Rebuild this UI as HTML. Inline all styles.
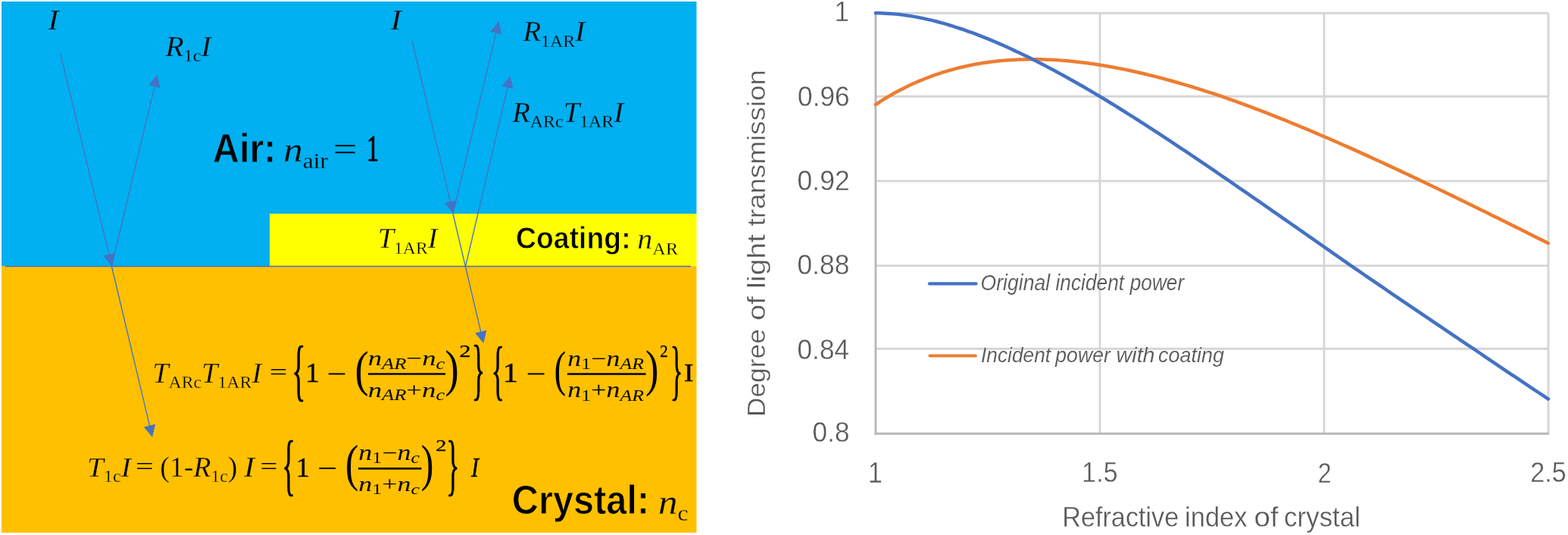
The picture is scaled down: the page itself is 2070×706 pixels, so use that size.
<!DOCTYPE html>
<html><head><meta charset="utf-8"><title>Anti-reflection coating transmission</title>
<style>html,body{margin:0;padding:0;background:#fff;width:2070px;height:706px;overflow:hidden}svg{display:block}</style>
</head><body>
<svg width="2070" height="706" viewBox="0 0 2070 706">
<path d="M2,2H919.5V282H356V351.2H2Z" fill="#00B0F0"/>
<rect x="2" y="351" width="917.5" height="352" fill="#FFC000"/>
<rect x="356" y="282" width="563.5" height="69.2" fill="#FFFF00"/>
<line x1="7" y1="351.6" x2="912" y2="351.6" stroke="#4472C4" stroke-width="1.5"/>
<line x1="79.70" y1="70.50" x2="144.32" y2="337.67" stroke="#4472C4" stroke-width="1.35"/><polygon points="147.56,351.08 136.32,337.55 151.38,333.90" fill="#4472C4"/>
<line x1="147.40" y1="351.50" x2="197.96" y2="563.56" stroke="#4472C4" stroke-width="1.35"/><polygon points="201.16,576.98 189.96,563.41 205.04,559.81" fill="#4472C4"/>
<line x1="147.40" y1="351.50" x2="204.37" y2="112.14" stroke="#4472C4" stroke-width="1.35"/><polygon points="207.56,98.72 211.44,115.88 196.36,112.30" fill="#4472C4"/>
<line x1="544.10" y1="54.00" x2="594.97" y2="268.05" stroke="#4472C4" stroke-width="1.35"/><polygon points="598.16,281.48 586.97,267.90 602.05,264.32" fill="#4472C4"/>
<line x1="598.00" y1="282.00" x2="614.50" y2="352.00" stroke="#4472C4" stroke-width="1.35"/>
<line x1="614.50" y1="352.00" x2="635.19" y2="439.55" stroke="#4472C4" stroke-width="1.35"/><polygon points="638.36,452.98 627.19,439.39 642.27,435.82" fill="#4472C4"/>
<line x1="598.00" y1="282.00" x2="655.26" y2="41.64" stroke="#4472C4" stroke-width="1.35"/><polygon points="658.46,28.22 662.34,45.39 647.26,41.79" fill="#4472C4"/>
<line x1="614.50" y1="352.00" x2="670.50" y2="113.65" stroke="#4472C4" stroke-width="1.35"/><polygon points="673.66,100.22 677.59,117.37 662.50,113.83" fill="#4472C4"/>
<rect x="486" y="492.3" width="102.10" height="2.40" fill="#000"/>
<rect x="749" y="492.3" width="103.60" height="2.50" fill="#000"/>
<rect x="473" y="617" width="83.40" height="2.60" fill="#000"/>
<rect x="433.7" y="492.4" width="21.80" height="2.00" fill="#000"/>
<rect x="696.8" y="492.4" width="21.70" height="2.00" fill="#000"/>
<rect x="421.4" y="617" width="21.60" height="2.00" fill="#000"/>
<line x1="1156" y1="17.30" x2="2044" y2="17.30" stroke="#D6D6D6" stroke-width="2.9"/>
<line x1="1156" y1="127.20" x2="2044" y2="127.20" stroke="#D6D6D6" stroke-width="2.9"/>
<line x1="1156" y1="238.90" x2="2044" y2="238.90" stroke="#D6D6D6" stroke-width="2.9"/>
<line x1="1156" y1="350.60" x2="2044" y2="350.60" stroke="#D6D6D6" stroke-width="2.9"/>
<line x1="1156" y1="460.30" x2="2044" y2="460.30" stroke="#D6D6D6" stroke-width="2.9"/>
<line x1="1452.00" y1="17.3" x2="1452.00" y2="572.3" stroke="#D6D6D6" stroke-width="2.9"/>
<line x1="1748.00" y1="17.3" x2="1748.00" y2="572.3" stroke="#D6D6D6" stroke-width="2.9"/>
<line x1="2044.00" y1="17.3" x2="2044.00" y2="572.3" stroke="#D6D6D6" stroke-width="2.9"/>
<line x1="1156" y1="16.3" x2="1156" y2="573.6999999999999" stroke="#B8B8B8" stroke-width="2.9"/>
<line x1="1154.6" y1="572.3" x2="2045" y2="572.3" stroke="#B8B8B8" stroke-width="2.9"/>
<polyline points="1156.00,138.01 1160.44,135.08 1164.88,132.23 1169.32,129.47 1173.76,126.81 1178.20,124.27 1182.64,121.81 1187.08,119.44 1191.52,117.15 1195.96,114.93 1200.40,112.79 1204.84,110.73 1209.28,108.75 1213.72,106.84 1218.16,105.00 1222.60,103.24 1227.04,101.54 1231.48,99.91 1235.92,98.36 1240.36,96.86 1244.80,95.44 1249.24,94.08 1253.68,92.78 1258.12,91.55 1262.56,90.37 1267.00,89.26 1271.44,88.21 1275.88,87.22 1280.32,86.28 1284.76,85.40 1289.20,84.58 1293.64,83.81 1298.08,83.09 1302.52,82.43 1306.96,81.82 1311.40,81.26 1315.84,80.75 1320.28,80.29 1324.72,79.88 1329.16,79.52 1333.60,79.20 1338.04,78.93 1342.48,78.71 1346.92,78.53 1351.36,78.39 1355.80,78.30 1360.24,78.25 1364.68,78.25 1369.12,78.28 1373.56,78.36 1378.00,78.47 1382.44,78.63 1386.88,78.82 1391.32,79.05 1395.76,79.32 1400.20,79.62 1404.64,79.96 1409.08,80.34 1413.52,80.75 1417.96,81.19 1422.40,81.67 1426.84,82.18 1431.28,82.73 1435.72,83.31 1440.16,83.91 1444.60,84.55 1449.04,85.22 1453.48,85.92 1457.92,86.65 1462.36,87.41 1466.80,88.20 1471.24,89.01 1475.68,89.86 1480.12,90.73 1484.56,91.62 1489.00,92.55 1493.44,93.50 1497.88,94.47 1502.32,95.47 1506.76,96.49 1511.20,97.54 1515.64,98.61 1520.08,99.71 1524.52,100.82 1528.96,101.96 1533.40,103.13 1537.84,104.31 1542.28,105.51 1546.72,106.74 1551.16,107.99 1555.60,109.26 1560.04,110.54 1564.48,111.85 1568.92,113.18 1573.36,114.52 1577.80,115.89 1582.24,117.27 1586.68,118.67 1591.12,120.09 1595.56,121.52 1600.00,122.97 1604.44,124.44 1608.88,125.93 1613.32,127.44 1617.76,128.98 1622.20,130.54 1626.64,132.11 1631.08,133.70 1635.52,135.31 1639.96,136.92 1644.40,138.56 1648.84,140.21 1653.28,141.87 1657.72,143.55 1662.16,145.24 1666.60,146.94 1671.04,148.65 1675.48,150.38 1679.92,152.12 1684.36,153.88 1688.80,155.64 1693.24,157.42 1697.68,159.21 1702.12,161.01 1706.56,162.82 1711.00,164.65 1715.44,166.48 1719.88,168.33 1724.32,170.18 1728.76,172.05 1733.20,173.92 1737.64,175.81 1742.08,177.70 1746.52,179.61 1750.96,181.52 1755.40,183.44 1759.84,185.37 1764.28,187.31 1768.72,189.26 1773.16,191.22 1777.60,193.18 1782.04,195.16 1786.48,197.14 1790.92,199.13 1795.36,201.13 1799.80,203.13 1804.24,205.14 1808.68,207.16 1813.12,209.19 1817.56,211.22 1822.00,213.26 1826.44,215.30 1830.88,217.36 1835.32,219.41 1839.76,221.48 1844.20,223.55 1848.64,225.62 1853.08,227.71 1857.52,229.79 1861.96,231.89 1866.40,233.99 1870.84,236.09 1875.28,238.20 1879.72,240.31 1884.16,242.43 1888.60,244.55 1893.04,246.68 1897.48,248.81 1901.92,250.95 1906.36,253.09 1910.80,255.24 1915.24,257.39 1919.68,259.54 1924.12,261.70 1928.56,263.86 1933.00,266.02 1937.44,268.19 1941.88,270.36 1946.32,272.54 1950.76,274.72 1955.20,276.90 1959.64,279.08 1964.08,281.27 1968.52,283.46 1972.96,285.66 1977.40,287.85 1981.84,290.05 1986.28,292.25 1990.72,294.46 1995.16,296.66 1999.60,298.87 2004.04,301.08 2008.48,303.30 2012.92,305.51 2017.36,307.73 2021.80,309.95 2026.24,312.17 2030.68,314.39 2035.12,316.62 2039.56,318.84 2044.00,321.07" fill="none" stroke="#ED7D31" stroke-width="4.5" stroke-linejoin="round" stroke-linecap="round"/>
<polyline points="1156.00,17.30 1160.44,17.34 1164.88,17.45 1169.32,17.64 1173.76,17.90 1178.20,18.23 1182.64,18.63 1187.08,19.10 1191.52,19.63 1195.96,20.23 1200.40,20.89 1204.84,21.61 1209.28,22.39 1213.72,23.24 1218.16,24.14 1222.60,25.09 1227.04,26.10 1231.48,27.17 1235.92,28.29 1240.36,29.45 1244.80,30.67 1249.24,31.94 1253.68,33.26 1258.12,34.62 1262.56,36.03 1267.00,37.49 1271.44,38.98 1275.88,40.53 1280.32,42.11 1284.76,43.73 1289.20,45.40 1293.64,47.10 1298.08,48.84 1302.52,50.62 1306.96,52.43 1311.40,54.28 1315.84,56.17 1320.28,58.09 1324.72,60.04 1329.16,62.03 1333.60,64.04 1338.04,66.09 1342.48,68.17 1346.92,70.28 1351.36,72.41 1355.80,74.58 1360.24,76.77 1364.68,78.99 1369.12,81.23 1373.56,83.50 1378.00,85.80 1382.44,88.12 1386.88,90.46 1391.32,92.83 1395.76,95.21 1400.20,97.63 1404.64,100.06 1409.08,102.51 1413.52,104.98 1417.96,107.48 1422.40,109.99 1426.84,112.52 1431.28,115.07 1435.72,117.64 1440.16,120.22 1444.60,122.83 1449.04,125.45 1453.48,128.09 1457.92,130.79 1462.36,133.50 1466.80,136.22 1471.24,138.96 1475.68,141.72 1480.12,144.48 1484.56,147.26 1489.00,150.06 1493.44,152.87 1497.88,155.68 1502.32,158.52 1506.76,161.36 1511.20,164.21 1515.64,167.08 1520.08,169.95 1524.52,172.84 1528.96,175.74 1533.40,178.64 1537.84,181.56 1542.28,184.48 1546.72,187.42 1551.16,190.36 1555.60,193.31 1560.04,196.27 1564.48,199.23 1568.92,202.21 1573.36,205.19 1577.80,208.17 1582.24,211.17 1586.68,214.17 1591.12,217.18 1595.56,220.19 1600.00,223.21 1604.44,226.23 1608.88,229.26 1613.32,232.29 1617.76,235.33 1622.20,238.38 1626.64,241.42 1631.08,244.48 1635.52,247.53 1639.96,250.59 1644.40,253.66 1648.84,256.72 1653.28,259.80 1657.72,262.87 1662.16,265.95 1666.60,269.02 1671.04,272.11 1675.48,275.19 1679.92,278.28 1684.36,281.37 1688.80,284.46 1693.24,287.55 1697.68,290.64 1702.12,293.74 1706.56,296.84 1711.00,299.93 1715.44,303.03 1719.88,306.13 1724.32,309.23 1728.76,312.33 1733.20,315.44 1737.64,318.54 1742.08,321.64 1746.52,324.74 1750.96,327.85 1755.40,330.95 1759.84,334.05 1764.28,337.15 1768.72,340.26 1773.16,343.36 1777.60,346.46 1782.04,349.56 1786.48,352.62 1790.92,355.66 1795.36,358.70 1799.80,361.74 1804.24,364.78 1808.68,367.82 1813.12,370.86 1817.56,373.89 1822.00,376.93 1826.44,379.96 1830.88,382.99 1835.32,386.02 1839.76,389.05 1844.20,392.07 1848.64,395.09 1853.08,398.11 1857.52,401.13 1861.96,404.15 1866.40,407.16 1870.84,410.18 1875.28,413.19 1879.72,416.19 1884.16,419.20 1888.60,422.20 1893.04,425.20 1897.48,428.19 1901.92,431.19 1906.36,434.18 1910.80,437.17 1915.24,440.15 1919.68,443.13 1924.12,446.11 1928.56,449.09 1933.00,452.06 1937.44,455.03 1941.88,458.00 1946.32,460.97 1950.76,463.99 1955.20,467.01 1959.64,470.03 1964.08,473.04 1968.52,476.04 1972.96,479.05 1977.40,482.05 1981.84,485.04 1986.28,488.04 1990.72,491.03 1995.16,494.01 1999.60,496.99 2004.04,499.97 2008.48,502.94 2012.92,505.91 2017.36,508.88 2021.80,511.84 2026.24,514.80 2030.68,517.75 2035.12,520.70 2039.56,523.64 2044.00,526.59" fill="none" stroke="#4472C4" stroke-width="4.5" stroke-linejoin="round" stroke-linecap="round"/>
<line x1="1227" y1="374.3" x2="1288.6" y2="374.3" stroke="#4472C4" stroke-width="4.2" stroke-linecap="round"/>
<line x1="1227.6" y1="469.5" x2="1287.8" y2="469.5" stroke="#ED7D31" stroke-width="4.2" stroke-linecap="round"/>
<g transform="matrix(1.0644 0 0 0.9670 63.200 39.142)" fill="#000" stroke="#00B0F0" stroke-width="0.3"><text x="0" y="0" style="font-family:&quot;Liberation Serif&quot;,serif;font-style:italic;font-size:40px">I</text></g>
<g transform="matrix(0.9840 0 0 0.9412 218.500 73.671)" fill="#000" stroke="#00B0F0" stroke-width="0.3"><text x="0" y="0" style="font-family:&quot;Liberation Serif&quot;,serif;font-size:40px"><tspan dy="0.00" style="font-style:italic;font-size:40px">R</tspan><tspan dy="8.00" style="font-style:normal;font-size:24.8px">1c</tspan><tspan dy="-8.00" style="font-style:italic;font-size:40px">I</tspan></text></g>
<g transform="matrix(0.9714 0 0 1.0667 280.857 213.833)" fill="#000" stroke="#00B0F0" stroke-width="0.9"><text x="0" y="0" style="font-family:&quot;Liberation Sans&quot;,sans-serif;font-weight:700;font-size:50px">Air:</text></g>
<g transform="matrix(1.0154 0 0 0.9403 374.369 212.897)" fill="#000" stroke="#00B0F0" stroke-width="0.3"><text x="0" y="0" style="font-family:&quot;Liberation Serif&quot;,serif;font-size:50px"><tspan dy="0.00" style="font-style:italic;font-size:50px">n</tspan><tspan dy="10.00" style="font-style:normal;font-size:31.0px">air</tspan></text></g>
<g transform="matrix(1.1385 0 0 0.8653 439.569 210.986)" fill="#000" stroke="#00B0F0" stroke-width="0.3"><text x="0" y="0" style="font-family:&quot;Liberation Serif&quot;,serif;font-size:50px">=</text></g>
<g transform="matrix(0.6263 0 0 0.9664 484.151 212.417)" fill="#000" stroke="#000000" stroke-width="1.3"><text x="0" y="0" style="font-family:&quot;Liberation Serif&quot;,serif;font-size:50px">1</text></g>
<g transform="matrix(1.0780 0 0 0.9437 515.600 39.036)" fill="#000" stroke="#00B0F0" stroke-width="0.3"><text x="0" y="0" style="font-family:&quot;Liberation Serif&quot;,serif;font-style:italic;font-size:40px">I</text></g>
<g transform="matrix(0.9651 0 0 0.9363 690.500 54.444)" fill="#000" stroke="#00B0F0" stroke-width="0.3"><text x="0" y="0" style="font-family:&quot;Liberation Serif&quot;,serif;font-size:40px"><tspan dy="0.00" style="font-style:italic;font-size:40px">R</tspan><tspan dy="8.00" style="font-style:normal;font-size:24.8px">1AR</tspan><tspan dy="-8.00" style="font-style:italic;font-size:40px">I</tspan></text></g>
<g transform="matrix(0.9652 0 0 0.9265 676.200 160.788)" fill="#000" stroke="#00B0F0" stroke-width="0.3"><text x="0" y="0" style="font-family:&quot;Liberation Serif&quot;,serif;font-size:40px"><tspan dy="0.00" style="font-style:italic;font-size:40px">R</tspan><tspan dy="8.00" style="font-style:normal;font-size:24.8px">ARc</tspan><tspan dy="-8.00" style="font-style:italic;font-size:40px">T</tspan><tspan dy="8.00" style="font-style:normal;font-size:24.8px">1AR</tspan><tspan dy="-8.00" style="font-style:italic;font-size:40px">I</tspan></text></g>
<g transform="matrix(0.9568 0 0 0.9570 498.669 326.983)" fill="#000" stroke="#FFFF00" stroke-width="0.3"><text x="0" y="0" style="font-family:&quot;Liberation Serif&quot;,serif;font-size:40px"><tspan dy="0.00" style="font-style:italic;font-size:40px">T</tspan><tspan dy="8.00" style="font-style:normal;font-size:24.8px">1AR</tspan><tspan dy="-8.00" style="font-style:italic;font-size:40px">I</tspan></text></g>
<g transform="matrix(0.9359 0 0 1.0140 680.928 327.900)" fill="#000" stroke="#FFFF00" stroke-width="0.8"><text x="0" y="0" style="font-family:&quot;Liberation Sans&quot;,sans-serif;font-weight:700;font-size:40px">Coating:</text></g>
<g transform="matrix(0.9848 0 0 0.9585 841.577 327.972)" fill="#000" stroke="#FFFF00" stroke-width="0.3"><text x="0" y="0" style="font-family:&quot;Liberation Serif&quot;,serif;font-size:40px"><tspan dy="0.00" style="font-style:italic;font-size:40px">n</tspan><tspan dy="8.00" style="font-style:normal;font-size:24.8px">AR</tspan></text></g>
<g transform="matrix(0.9748 0 0 1.0909 675.763 677.800)" fill="#000" stroke="#FFC000" stroke-width="0.9"><text x="0" y="0" style="font-family:&quot;Liberation Sans&quot;,sans-serif;font-weight:700;font-size:50px">Crystal:</text></g>
<g transform="matrix(1.0210 0 0 0.9194 868.958 678.006)" fill="#000" stroke="#FFC000" stroke-width="0.3"><text x="0" y="0" style="font-family:&quot;Liberation Serif&quot;,serif;font-size:50px"><tspan dy="0.00" style="font-style:italic;font-size:50px">n</tspan><tspan dy="10.00" style="font-style:normal;font-size:31.0px">c</tspan></text></g>
<g transform="matrix(1.0662 0 0 1.0341 201.135 504.502)" fill="#000" stroke="#FFC000" stroke-width="0.3"><text x="0" y="0" style="font-family:&quot;Liberation Serif&quot;,serif;font-size:36px"><tspan dy="0.00" style="font-style:italic;font-size:36px">T</tspan><tspan dy="7.20" style="font-style:normal;font-size:22.32px">ARc</tspan><tspan dy="-7.20" style="font-style:italic;font-size:36px">T</tspan><tspan dy="7.20" style="font-style:normal;font-size:22.32px">1AR</tspan><tspan dy="-7.20" style="font-style:italic;font-size:36px">I</tspan></text></g>
<g transform="matrix(1.1642 0 0 0.8444 355.663 500.933)" fill="#000"><text x="0" y="0" style="font-family:&quot;Liberation Serif&quot;,serif;font-size:36px">=</text></g>
<g transform="matrix(1.0578 0 0 2.4500 385.327 517.550)" fill="#000" stroke="#000000" stroke-width="0.3"><text x="0" y="0" style="font-family:&quot;Liberation Serif&quot;,serif;font-size:36px">{</text></g>
<g transform="matrix(1.0692 0 0 1.0000 402.792 504.000)" fill="#000" stroke="#000000" stroke-width="0.3"><text x="0" y="0" style="font-family:&quot;Liberation Serif&quot;,serif;font-size:36px">1</text></g>
<g transform="matrix(1.5135 0 0 1.8462 468.530 508.954)" fill="#000"><text x="0" y="0" style="font-family:&quot;Liberation Serif&quot;,serif;font-size:36px">(</text></g>
<g transform="matrix(1.2684 0 0 0.9676 485.632 482.204)" fill="#000"><text x="0" y="0" style="font-family:&quot;Liberation Serif&quot;,serif;font-size:29px"><tspan dy="0.00" style="font-style:italic;font-size:29px">n</tspan><tspan dy="4.47" style="font-style:italic;font-size:20.88px">AR</tspan><tspan dy="-4.47" style="font-style:normal;font-size:29px">−</tspan><tspan dy="0.00" style="font-style:italic;font-size:29px">n</tspan><tspan dy="4.47" style="font-style:italic;font-size:20.88px">c</tspan></text></g>
<g transform="matrix(1.2684 0 0 0.9667 485.632 523.808)" fill="#000"><text x="0" y="0" style="font-family:&quot;Liberation Serif&quot;,serif;font-size:29px"><tspan dy="0.00" style="font-style:italic;font-size:29px">n</tspan><tspan dy="4.47" style="font-style:italic;font-size:20.88px">AR</tspan><tspan dy="-4.47" style="font-style:normal;font-size:29px">+</tspan><tspan dy="0.00" style="font-style:italic;font-size:29px">n</tspan><tspan dy="4.47" style="font-style:italic;font-size:20.88px">c</tspan></text></g>
<g transform="matrix(1.5243 0 0 1.8605 587.395 508.847)" fill="#000"><text x="0" y="0" style="font-family:&quot;Liberation Serif&quot;,serif;font-size:36px">)</text></g>
<g transform="matrix(1.2513 0 0 0.9415 606.549 470.865)" fill="#000" stroke="#000000" stroke-width="0.35"><text x="0" y="0" style="font-family:&quot;Liberation Serif&quot;,serif;font-size:24px">2</text></g>
<g transform="matrix(1.0133 0 0 2.4667 622.660 517.467)" fill="#000" stroke="#000000" stroke-width="0.3"><text x="0" y="0" style="font-family:&quot;Liberation Serif&quot;,serif;font-size:36px">}</text></g>
<g transform="matrix(1.0222 0 0 2.4367 648.433 517.417)" fill="#000" stroke="#000000" stroke-width="0.3"><text x="0" y="0" style="font-family:&quot;Liberation Serif&quot;,serif;font-size:36px">{</text></g>
<g transform="matrix(1.1538 0 0 1.0000 663.538 504.000)" fill="#000" stroke="#000000" stroke-width="0.3"><text x="0" y="0" style="font-family:&quot;Liberation Serif&quot;,serif;font-size:36px">1</text></g>
<g transform="matrix(1.3081 0 0 1.8462 731.438 508.954)" fill="#000"><text x="0" y="0" style="font-family:&quot;Liberation Serif&quot;,serif;font-size:36px">(</text></g>
<g transform="matrix(1.2388 0 0 1.0082 749.261 482.763)" fill="#000"><text x="0" y="0" style="font-family:&quot;Liberation Serif&quot;,serif;font-size:29px"><tspan dy="0.00" style="font-style:italic;font-size:29px">n</tspan><tspan dy="4.47" style="font-style:normal;font-size:20.88px">1</tspan><tspan dy="-4.47" style="font-style:normal;font-size:29px">−</tspan><tspan dy="0.00" style="font-style:italic;font-size:29px">n</tspan><tspan dy="4.47" style="font-style:italic;font-size:20.88px">AR</tspan></text></g>
<g transform="matrix(1.2388 0 0 0.9880 749.261 524.154)" fill="#000"><text x="0" y="0" style="font-family:&quot;Liberation Serif&quot;,serif;font-size:29px"><tspan dy="0.00" style="font-style:italic;font-size:29px">n</tspan><tspan dy="4.47" style="font-style:normal;font-size:20.88px">1</tspan><tspan dy="-4.47" style="font-style:normal;font-size:29px">+</tspan><tspan dy="0.00" style="font-style:italic;font-size:29px">n</tspan><tspan dy="4.47" style="font-style:italic;font-size:20.88px">AR</tspan></text></g>
<g transform="matrix(1.4595 0 0 1.8605 851.976 508.847)" fill="#000"><text x="0" y="0" style="font-family:&quot;Liberation Serif&quot;,serif;font-size:36px">)</text></g>
<g transform="matrix(0.8718 0 0 0.9415 871.128 470.865)" fill="#000" stroke="#000000" stroke-width="0.35"><text x="0" y="0" style="font-family:&quot;Liberation Serif&quot;,serif;font-size:24px">2</text></g>
<g transform="matrix(0.9689 0 0 2.4367 884.693 517.417)" fill="#000" stroke="#000000" stroke-width="0.3"><text x="0" y="0" style="font-family:&quot;Liberation Serif&quot;,serif;font-size:36px">}</text></g>
<g transform="matrix(1.0800 0 0 0.9583 902.820 502.960)" fill="#000" stroke="#000000" stroke-width="0.4"><text x="0" y="0" style="font-family:&quot;Liberation Serif&quot;,serif;font-size:36px">I</text></g>
<g transform="matrix(1.0841 0 0 1.0211 115.090 628.597)" fill="#000" stroke="#FFC000" stroke-width="0.3"><text x="0" y="0" style="font-family:&quot;Liberation Serif&quot;,serif;font-size:36px"><tspan dy="0.00" style="font-style:italic;font-size:36px">T</tspan><tspan dy="7.20" style="font-style:normal;font-size:22.32px">1c</tspan><tspan dy="-7.20" style="font-style:italic;font-size:36px">I</tspan></text></g>
<g transform="matrix(1.1701 0 0 0.8667 178.952 625.500)" fill="#000"><text x="0" y="0" style="font-family:&quot;Liberation Serif&quot;,serif;font-size:36px">=</text></g>
<g transform="matrix(1.0535 0 0 1.0457 211.156 628.919)" fill="#000" stroke="#FFC000" stroke-width="0.3"><text x="0" y="0" style="font-family:&quot;Liberation Serif&quot;,serif;font-size:36px"><tspan dy="0.00" style="font-style:normal;font-size:36px">(1-</tspan><tspan dy="0.00" style="font-style:italic;font-size:36px">R</tspan><tspan dy="7.20" style="font-style:normal;font-size:22.32px">1c</tspan><tspan dy="-7.20" style="font-style:normal;font-size:36px">)</tspan></text></g>
<g transform="matrix(1.1774 0 0 1.0366 322.000 628.959)" fill="#000" stroke="#FFC000" stroke-width="0.3"><text x="0" y="0" style="font-family:&quot;Liberation Serif&quot;,serif;font-style:italic;font-size:36px">I</text></g>
<g transform="matrix(1.1284 0 0 0.8667 343.425 625.500)" fill="#000"><text x="0" y="0" style="font-family:&quot;Liberation Serif&quot;,serif;font-size:36px">=</text></g>
<g transform="matrix(1.0222 0 0 2.4600 372.333 643.000)" fill="#000" stroke="#000000" stroke-width="0.3"><text x="0" y="0" style="font-family:&quot;Liberation Serif&quot;,serif;font-size:36px">{</text></g>
<g transform="matrix(1.0385 0 0 1.0167 390.585 628.900)" fill="#000" stroke="#000000" stroke-width="0.3"><text x="0" y="0" style="font-family:&quot;Liberation Serif&quot;,serif;font-size:36px">1</text></g>
<g transform="matrix(1.4595 0 0 1.8738 455.811 634.446)" fill="#000"><text x="0" y="0" style="font-family:&quot;Liberation Serif&quot;,serif;font-size:36px">(</text></g>
<g transform="matrix(1.2408 0 0 0.9784 473.359 606.953)" fill="#000"><text x="0" y="0" style="font-family:&quot;Liberation Serif&quot;,serif;font-size:29px"><tspan dy="0.00" style="font-style:italic;font-size:29px">n</tspan><tspan dy="4.47" style="font-style:normal;font-size:20.88px">1</tspan><tspan dy="-4.47" style="font-style:normal;font-size:29px">−</tspan><tspan dy="0.00" style="font-style:italic;font-size:29px">n</tspan><tspan dy="4.47" style="font-style:italic;font-size:20.88px">c</tspan></text></g>
<g transform="matrix(1.2408 0 0 0.9095 473.359 648.180)" fill="#000"><text x="0" y="0" style="font-family:&quot;Liberation Serif&quot;,serif;font-size:29px"><tspan dy="0.00" style="font-style:italic;font-size:29px">n</tspan><tspan dy="4.47" style="font-style:normal;font-size:20.88px">1</tspan><tspan dy="-4.47" style="font-style:normal;font-size:29px">+</tspan><tspan dy="0.00" style="font-style:italic;font-size:29px">n</tspan><tspan dy="4.47" style="font-style:italic;font-size:20.88px">c</tspan></text></g>
<g transform="matrix(1.3946 0 0 1.8884 555.657 634.337)" fill="#000"><text x="0" y="0" style="font-family:&quot;Liberation Serif&quot;,serif;font-size:36px">)</text></g>
<g transform="matrix(1.1795 0 0 0.8738 575.221 595.482)" fill="#000" stroke="#000000" stroke-width="0.35"><text x="0" y="0" style="font-family:&quot;Liberation Serif&quot;,serif;font-size:24px">2</text></g>
<g transform="matrix(1.0133 0 0 2.4600 588.960 643.000)" fill="#000" stroke="#000000" stroke-width="0.3"><text x="0" y="0" style="font-family:&quot;Liberation Serif&quot;,serif;font-size:36px">}</text></g>
<g transform="matrix(0.8364 0 0 1.0167 621.909 628.646)" fill="#000" stroke="#000000" stroke-width="0.4"><text x="0" y="0" style="font-family:&quot;Liberation Serif&quot;,serif;font-style:italic;font-size:36px">I</text></g>
<g transform="matrix(0.9800 0 0 1.0392 1101.460 28.260)" fill="#595959" stroke="#FFFFFF" stroke-width="0.35"><text x="0" y="0" style="font-family:&quot;Liberation Sans&quot;,sans-serif;font-size:36px">1</text></g>
<g transform="matrix(0.9813 0 0 1.0376 1053.028 140.141)" fill="#595959" stroke="#FFFFFF" stroke-width="0.35"><text x="0" y="0" style="font-family:&quot;Liberation Sans&quot;,sans-serif;font-size:36px">0.96</text></g>
<g transform="matrix(0.9895 0 0 1.0337 1052.516 250.542)" fill="#595959" stroke="#FFFFFF" stroke-width="0.35"><text x="0" y="0" style="font-family:&quot;Liberation Sans&quot;,sans-serif;font-size:36px">0.92</text></g>
<g transform="matrix(0.9858 0 0 1.0059 1052.521 362.149)" fill="#595959" stroke="#FFFFFF" stroke-width="0.35"><text x="0" y="0" style="font-family:&quot;Liberation Sans&quot;,sans-serif;font-size:36px">0.88</text></g>
<g transform="matrix(0.9784 0 0 1.0297 1052.532 473.743)" fill="#595959" stroke="#FFFFFF" stroke-width="0.35"><text x="0" y="0" style="font-family:&quot;Liberation Sans&quot;,sans-serif;font-size:36px">0.84</text></g>
<g transform="matrix(0.9797 0 0 1.0020 1072.530 583.050)" fill="#595959" stroke="#FFFFFF" stroke-width="0.35"><text x="0" y="0" style="font-family:&quot;Liberation Sans&quot;,sans-serif;font-size:36px">0.8</text></g>
<g transform="matrix(0.9400 0 0 1.0515 1145.980 636.663)" fill="#595959" stroke="#FFFFFF" stroke-width="0.35"><text x="0" y="0" style="font-family:&quot;Liberation Sans&quot;,sans-serif;font-size:36px">1</text></g>
<g transform="matrix(0.9436 0 0 1.0465 1428.369 636.438)" fill="#595959" stroke="#FFFFFF" stroke-width="0.35"><text x="0" y="0" style="font-family:&quot;Liberation Sans&quot;,sans-serif;font-size:36px">1.5</text></g>
<g transform="matrix(0.8938 0 0 1.0303 1739.812 636.958)" fill="#595959" stroke="#FFFFFF" stroke-width="0.35"><text x="0" y="0" style="font-family:&quot;Liberation Sans&quot;,sans-serif;font-size:36px">2</text></g>
<g transform="matrix(0.9492 0 0 1.0059 2020.302 636.149)" fill="#595959" stroke="#FFFFFF" stroke-width="0.35"><text x="0" y="0" style="font-family:&quot;Liberation Sans&quot;,sans-serif;font-size:36px">2.5</text></g>
<g transform="matrix(0.9510 0 0 1.0269 1402.209 694.800)" fill="#595959" stroke="#FFFFFF" stroke-width="0.35"><text x="0" y="0" style="font-family:&quot;Liberation Sans&quot;,sans-serif;font-size:36px">Refractive</text></g>
<g transform="matrix(0.9595 0 0 1.0269 1564.001 694.800)" fill="#595959" stroke="#FFFFFF" stroke-width="0.35"><text x="0" y="0" style="font-family:&quot;Liberation Sans&quot;,sans-serif;font-size:36px">index</text></g>
<g transform="matrix(1.0750 0 0 1.0269 1655.519 694.800)" fill="#595959" stroke="#FFFFFF" stroke-width="0.35"><text x="0" y="0" style="font-family:&quot;Liberation Sans&quot;,sans-serif;font-size:36px">of</text></g>
<g transform="matrix(0.9704 0 0 1.0269 1695.102 694.800)" fill="#595959" stroke="#FFFFFF" stroke-width="0.35"><text x="0" y="0" style="font-family:&quot;Liberation Sans&quot;,sans-serif;font-size:36px">crystal</text></g>
<g transform="matrix(0.9423 0 0 0.9805 1010.100 549.987)" fill="#595959" stroke="#FFFFFF" stroke-width="0.35"><g transform="rotate(-90)"><text x="0" y="0" style="font-family:&quot;Liberation Sans&quot;,sans-serif;font-size:36px">Degree</text></g></g>
<g transform="matrix(0.9423 0 0 1.0643 1010.100 422.963)" fill="#595959" stroke="#FFFFFF" stroke-width="0.35"><g transform="rotate(-90)"><text x="0" y="0" style="font-family:&quot;Liberation Sans&quot;,sans-serif;font-size:36px">of</text></g></g>
<g transform="matrix(0.9423 0 0 1.0837 1010.100 380.680)" fill="#595959" stroke="#FFFFFF" stroke-width="0.35"><g transform="rotate(-90)"><text x="0" y="0" style="font-family:&quot;Liberation Sans&quot;,sans-serif;font-size:36px">light</text></g></g>
<g transform="matrix(0.9423 0 0 1.0214 1010.100 298.466)" fill="#595959" stroke="#FFFFFF" stroke-width="0.35"><g transform="rotate(-90)"><text x="0" y="0" style="font-family:&quot;Liberation Sans&quot;,sans-serif;font-size:36px">transmission</text></g></g>
<g transform="matrix(0.9512 0 0 1.0272 1294.435 382.800)" fill="#595959" stroke="#FFFFFF" stroke-width="0.15"><text x="0" y="0" style="font-family:&quot;Liberation Sans&quot;,sans-serif;font-style:italic;font-size:28px">Original</text></g>
<g transform="matrix(0.9395 0 0 1.0272 1393.430 382.800)" fill="#595959" stroke="#FFFFFF" stroke-width="0.15"><text x="0" y="0" style="font-family:&quot;Liberation Sans&quot;,sans-serif;font-style:italic;font-size:28px">incident</text></g>
<g transform="matrix(0.9368 0 0 1.0272 1491.768 382.800)" fill="#595959" stroke="#FFFFFF" stroke-width="0.15"><text x="0" y="0" style="font-family:&quot;Liberation Sans&quot;,sans-serif;font-style:italic;font-size:28px">power</text></g>
<g transform="matrix(0.9402 0 0 1.0173 1295.025 478.100)" fill="#595959" stroke="#FFFFFF" stroke-width="0.15"><text x="0" y="0" style="font-family:&quot;Liberation Sans&quot;,sans-serif;font-style:italic;font-size:28px">Incident</text></g>
<g transform="matrix(0.9535 0 0 1.0173 1393.277 478.100)" fill="#595959" stroke="#FFFFFF" stroke-width="0.15"><text x="0" y="0" style="font-family:&quot;Liberation Sans&quot;,sans-serif;font-style:italic;font-size:28px">power</text></g>
<g transform="matrix(1.0277 0 0 1.0173 1473.459 478.100)" fill="#595959" stroke="#FFFFFF" stroke-width="0.15"><text x="0" y="0" style="font-family:&quot;Liberation Sans&quot;,sans-serif;font-style:italic;font-size:28px">with</text></g>
<g transform="matrix(0.9645 0 0 1.0173 1529.035 478.100)" fill="#595959" stroke="#FFFFFF" stroke-width="0.15"><text x="0" y="0" style="font-family:&quot;Liberation Sans&quot;,sans-serif;font-style:italic;font-size:28px">coating</text></g>
</svg>
</body></html>
